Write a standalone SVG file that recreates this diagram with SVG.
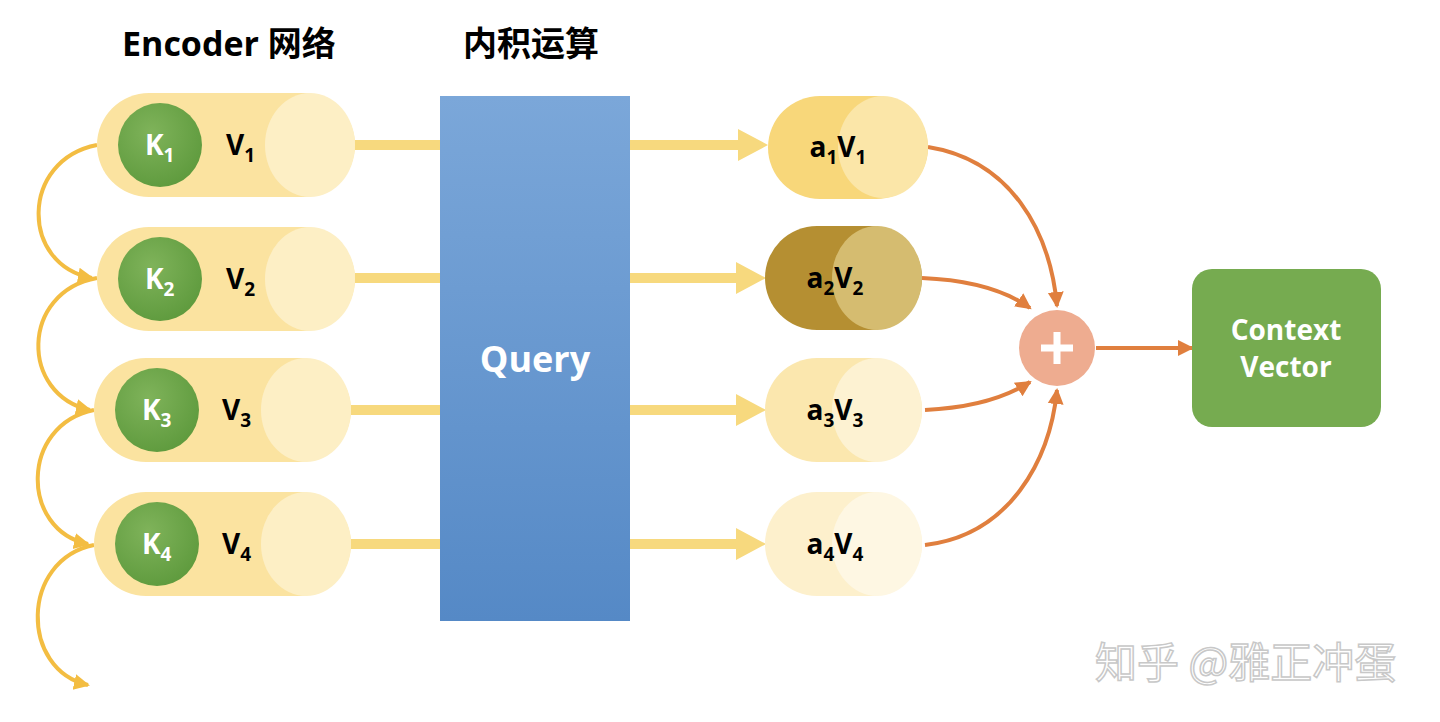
<svg xmlns="http://www.w3.org/2000/svg" width="1440" height="722" viewBox="0 0 1440 722">
<defs>
<linearGradient id="q" x1="0" y1="0" x2="0" y2="1"><stop offset="0" stop-color="#7ba7d9"/><stop offset="1" stop-color="#5589c6"/></linearGradient>
<radialGradient id="g" cx="0.4" cy="0.35" r="0.7"><stop offset="0" stop-color="#7fb35a"/><stop offset="1" stop-color="#5e9a3d"/></radialGradient>
<marker id="ao" markerWidth="20" markerHeight="20" refX="14" refY="10" orient="auto" markerUnits="userSpaceOnUse"><path d="M0,2 L16,10 L0,18 z" fill="#e07f3e"/></marker>
<marker id="aY" markerWidth="20" markerHeight="20" refX="14" refY="10" orient="auto" markerUnits="userSpaceOnUse"><path d="M0,2 L16,10 L0,18 z" fill="#f3bd42"/></marker>
</defs>
<style>
.t{font-family:"Open Sans","Liberation Sans","Noto Sans CJK SC",sans-serif;font-weight:bold}
.h{font-size:34px;fill:#000}
.k{font-size:28px;fill:#fff}
.v{font-size:28px;fill:#000}
.s{font-size:19px}
.bar{fill:#f7d97e}
</style>
<rect width="1440" height="722" fill="#fff"/>
<text class="t h" x="122" y="56">Encoder 网络</text>
<text class="t h" x="463" y="56">内积运算</text>
<g id="connectors" fill="none">
<rect class="bar" x="355" y="140" width="85" height="10"/>
<rect class="bar" x="355" y="273" width="85" height="10"/>
<rect class="bar" x="351" y="405" width="89" height="10"/>
<rect class="bar" x="351" y="539" width="89" height="10"/>
<path class="bar" d="M630,140 H738 V129 L768,145 L738,161 V150 H630 z"/>
<path class="bar" d="M630,273 H736 V262 L766,278 L736,294 V283 H630 z"/>
<path class="bar" d="M630,405 H736 V394 L766,410 L736,426 V415 H630 z"/>
<path class="bar" d="M630,539 H736 V528 L766,544 L736,560 V549 H630 z"/>
<g stroke="#f3bd42" stroke-width="4">
<path d="M97,145 C20,160 20,265 92,278" marker-end="url(#aY)"/>
<path d="M97,278 C20,292 20,395 90,410" marker-end="url(#aY)"/>
<path d="M94,410 C20,425 20,530 88,544" marker-end="url(#aY)"/>
<path d="M94,545 C20,560 20,670 88,685" marker-end="url(#aY)"/>
</g>
<g stroke="#e07f3e" stroke-width="4">
<path d="M928,147 C1010,160 1050,230 1057,306" marker-end="url(#ao)"/>
<path d="M922,278 C970,280 1005,290 1030,308" marker-end="url(#ao)"/>
<path d="M925,410 C970,408 1005,398 1030,382" marker-end="url(#ao)"/>
<path d="M925,545 C1010,535 1050,460 1057,390" marker-end="url(#ao)"/>
<path d="M1096,348 H1192" marker-end="url(#ao)"/>
</g>
</g>
<g id="enc1"><rect x="97" y="93" width="258" height="104" rx="52" fill="#fbe3a0"/><ellipse cx="310" cy="145" rx="45" ry="52" fill="#fdefc5"/><circle cx="160" cy="145" r="42" fill="url(#g)"/><text class="t k" x="145" y="155">K<tspan class="s" dy="7">1</tspan></text><text class="t v" x="226" y="155">V<tspan class="s" dy="7">1</tspan></text></g>
<g id="enc2"><rect x="97" y="227" width="258" height="104" rx="52" fill="#fbe3a0"/><ellipse cx="310" cy="279" rx="45" ry="52" fill="#fdefc5"/><circle cx="160" cy="279" r="42" fill="url(#g)"/><text class="t k" x="145" y="289">K<tspan class="s" dy="7">2</tspan></text><text class="t v" x="226" y="289">V<tspan class="s" dy="7">2</tspan></text></g>
<g id="enc3"><rect x="94" y="358" width="257" height="104" rx="52" fill="#fbe3a0"/><ellipse cx="306" cy="410" rx="45" ry="52" fill="#fdefc5"/><circle cx="157" cy="410" r="42" fill="url(#g)"/><text class="t k" x="142" y="420">K<tspan class="s" dy="7">3</tspan></text><text class="t v" x="222" y="420">V<tspan class="s" dy="7">3</tspan></text></g>
<g id="enc4"><rect x="94" y="492" width="257" height="104" rx="52" fill="#fbe3a0"/><ellipse cx="306" cy="544" rx="45" ry="52" fill="#fdefc5"/><circle cx="157" cy="544" r="42" fill="url(#g)"/><text class="t k" x="142" y="554">K<tspan class="s" dy="7">4</tspan></text><text class="t v" x="222" y="554">V<tspan class="s" dy="7">4</tspan></text></g>
<g id="query"><rect x="440" y="96" width="190" height="525" fill="url(#q)"/><text class="t" x="535" y="372" font-size="36" fill="#fff" text-anchor="middle">Query</text></g>
<g id="av1"><rect x="768" y="96" width="160" height="103" rx="52" fill="#f8d77a"/><ellipse cx="883" cy="147" rx="45" ry="51" fill="#fbe6a8"/><text class="t v" x="838" y="157" text-anchor="middle">a<tspan class="s" dy="7">1</tspan><tspan dy="-7">V</tspan><tspan class="s" dy="7">1</tspan></text></g>
<g id="av2"><rect x="765" y="226" width="157" height="104" rx="52" fill="#b58f32"/><ellipse cx="877" cy="278" rx="45" ry="52" fill="#d5bc70"/><text class="t v" x="835" y="288" text-anchor="middle">a<tspan class="s" dy="7">2</tspan><tspan dy="-7">V</tspan><tspan class="s" dy="7">2</tspan></text></g>
<g id="av3"><rect x="765" y="358" width="157" height="104" rx="52" fill="#fbe7ae"/><ellipse cx="877" cy="410" rx="45" ry="52" fill="#fdf2d2"/><text class="t v" x="835" y="420" text-anchor="middle">a<tspan class="s" dy="7">3</tspan><tspan dy="-7">V</tspan><tspan class="s" dy="7">3</tspan></text></g>
<g id="av4"><rect x="765" y="492" width="157" height="104" rx="52" fill="#fdf0cc"/><ellipse cx="877" cy="544" rx="45" ry="52" fill="#fef7e3"/><text class="t v" x="835" y="554" text-anchor="middle">a<tspan class="s" dy="7">4</tspan><tspan dy="-7">V</tspan><tspan class="s" dy="7">4</tspan></text></g>
<g id="plus"><circle cx="1057" cy="348" r="38" fill="#eeac90"/><path d="M1041,348 H1073 M1057,332 V364" stroke="#fff" stroke-width="7"/></g>
<g id="context"><rect x="1192" y="269" width="189" height="158" rx="20" fill="#76ab50"/><text class="t" x="1286" y="340" font-size="28" fill="#fff" text-anchor="middle">Context</text><text class="t" x="1286" y="377" font-size="28" fill="#fff" text-anchor="middle">Vector</text></g>
<text x="1095" y="678" font-family="'Noto Sans CJK SC',sans-serif" font-size="42" fill="#fff" stroke="#c8c8c8" stroke-width="1.5">知乎 @雅正冲蛋</text>
</svg>
